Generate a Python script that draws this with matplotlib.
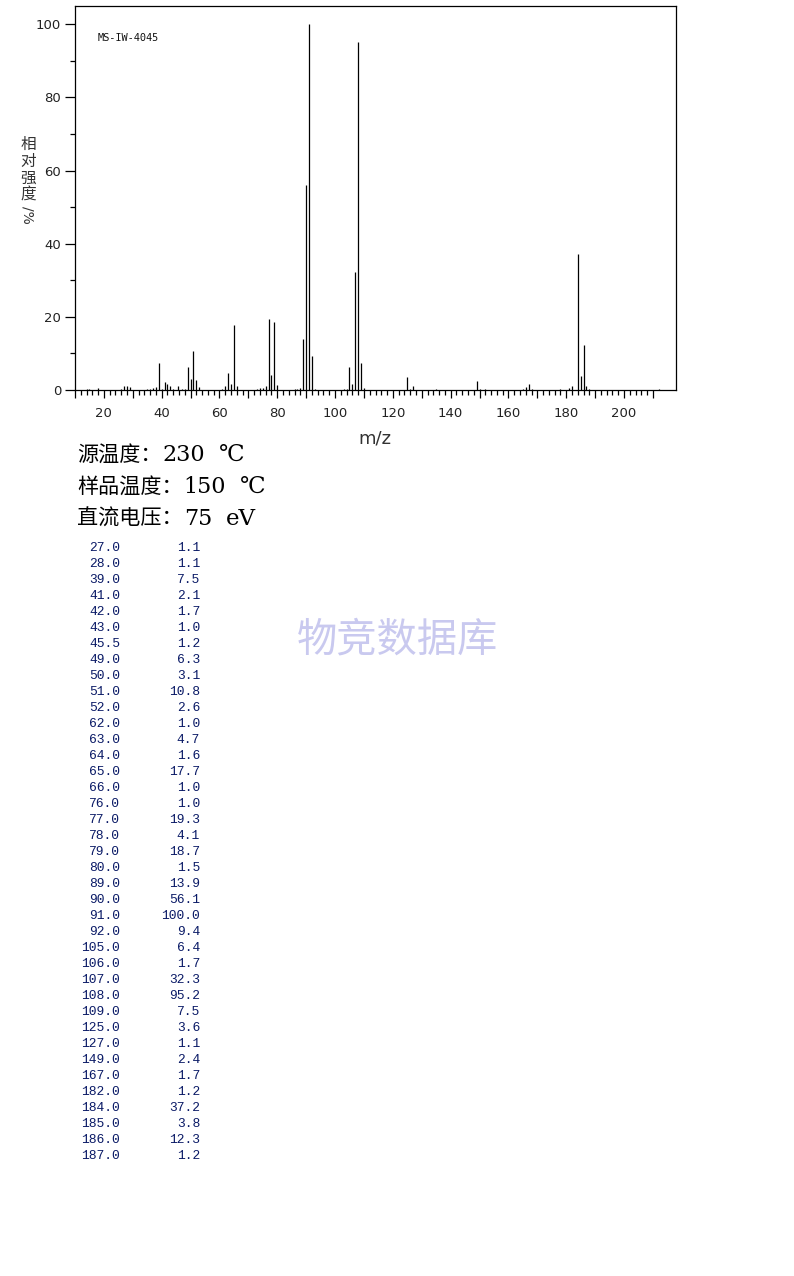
import matplotlib
matplotlib.use("Agg")
import matplotlib.pyplot as plt
from matplotlib.ticker import FixedLocator, FuncFormatter, MultipleLocator

# ---- data ----
mz_table = [27.0, 28.0, 39.0, 41.0, 42.0, 43.0, 45.5, 49.0, 50.0, 51.0, 52.0, 62.0, 63.0,
            64.0, 65.0, 66.0, 76.0, 77.0, 78.0, 79.0, 80.0, 89.0, 90.0, 91.0, 92.0, 105.0,
            106.0, 107.0, 108.0, 109.0, 125.0, 127.0, 149.0, 167.0, 182.0, 184.0, 185.0,
            186.0, 187.0]
int_table = [1.1, 1.1, 7.5, 2.1, 1.7, 1.0, 1.2, 6.3, 3.1, 10.8, 2.6, 1.0, 4.7,
             1.6, 17.7, 1.0, 1.0, 19.3, 4.1, 18.7, 1.5, 13.9, 56.1, 100.0, 9.4, 6.4,
             1.7, 32.3, 95.2, 7.5, 3.6, 1.1, 2.4, 1.7, 1.2, 37.2, 3.8,
             12.3, 1.2]
# small peaks (< 1 %) visible on the spectrum but not listed in the table
mz_minor = [14, 15, 18, 26, 29, 35, 36, 37, 38, 40, 44, 47, 48, 53, 61, 73, 74, 75,
            86, 87, 88, 93, 103, 104, 110, 126, 135, 150, 152, 165, 166, 168, 178,
            181, 188, 212]
int_minor = [0.3, 0.3, 0.6, 0.2, 0.9, 0.3, 0.4, 0.5, 0.8, 0.3, 0.4, 0.3, 0.3, 0.7, 0.3,
             0.4, 0.5, 0.5, 0.3, 0.3, 0.5, 0.3, 0.4, 0.4, 0.5, 0.3, 0.2, 0.3, 0.2, 0.4,
             0.7, 0.3, 0.4, 0.5, 0.3, 0.2]

sample_id = "MS-IW-4045"
info_labels = ["源温度：", "样品温度：", "直流电压："]
info_values = ["230", "150", "75"]
info_units = ["℃", "℃", "eV"]
watermark = "物竞数据库"

W, H = 794, 1276
fig = plt.figure(figsize=(W / 100, H / 100), dpi=100)

L, R, T, B = 75, 676, 6, 390
ax = fig.add_axes([L / W, 1 - B / H, (R - L) / W, (B - T) / H])

mz_all = mz_minor + mz_table
int_all = int_minor + int_table
ax.vlines(mz_all, 0, int_all, colors="black", linewidth=0.9)

ax.set_xlim(10, 218)
ax.set_ylim(0, 105)

for s in ax.spines.values():
    s.set_linewidth(0.9)
    s.set_color("black")

ax.xaxis.set_major_locator(FixedLocator(list(range(10, 211, 10))))
ax.xaxis.set_major_formatter(FuncFormatter(lambda v, p: f"{int(round(v))}" if int(round(v)) % 20 == 0 else ""))
ax.xaxis.set_minor_locator(FixedLocator([v for v in range(10, 211, 2) if v % 10 != 0]))
ax.yaxis.set_major_locator(MultipleLocator(20))
ax.yaxis.set_minor_locator(MultipleLocator(10))

ax.tick_params(axis="x", which="major", direction="out", length=6, width=0.9, pad=6,
               labelsize=9.5, labelcolor="#222222")
ax.tick_params(axis="x", which="minor", direction="out", length=3.8, width=0.9)
ax.tick_params(axis="y", which="major", direction="out", length=7, width=0.9, pad=3,
               labelsize=9.5, labelcolor="#222222")
ax.tick_params(axis="y", which="minor", direction="out", length=3.8, width=0.9)

# axis labels
fig.text(375 / W, 1 - 438 / H, "m/z", ha="center", va="center", fontsize=13,
         color="#333333", family="DejaVu Sans")
ylab_chars = ["相", "对", "强", "度"]
ylab_y = [144, 161, 178, 195]
for ch, yy in zip(ylab_chars, ylab_y):
    fig.text(28 / W, 1 - yy / H, ch, ha="center", va="center", fontsize=11.3,
             color="#333333", family=["Noto Sans CJK SC", "DejaVu Sans"])
fig.text(28 / W, 1 - 215 / H, "/%", ha="center", va="center", fontsize=10,
         color="#333333", rotation=-90, family="DejaVu Sans")

# sample id inside the plot
fig.text(98 / W, 1 - 38 / H, sample_id, ha="left", va="center", fontsize=7.4,
         color="#111111", family="DejaVu Sans Mono")

# info lines
renderer = fig.canvas.get_renderer()
for i, (lab, val, unit) in enumerate(zip(info_labels, info_values, info_units)):
    yc = 1 - (455 + 32 * i) / H
    t1 = fig.text(77 / W, yc, lab, ha="left", va="center", fontsize=15.2,
                  color="black", family=["Noto Sans CJK SC", "DejaVu Sans"])
    e1 = t1.get_window_extent(renderer)
    t2 = fig.text((e1.x1 + 1) / W, yc, val, ha="left", va="center", fontsize=16,
                  color="black", family=["DejaVu Serif", "Noto Sans CJK SC"])
    e2 = t2.get_window_extent(renderer)
    fig.text((e2.x1 + 14) / W, yc, unit, ha="left", va="center", fontsize=16.5,
             color="black", family=["DejaVu Serif", "Noto Sans CJK SC"])

# table
for i, (m, v) in enumerate(zip(mz_table, int_table)):
    y = 1 - (548 + 16 * i) / H
    fig.text(120 / W, y, f"{m:.1f}", ha="right", va="center", fontsize=9.4,
             color="#0a1a66", family="Liberation Mono")
    fig.text(200 / W, y, f"{v:.1f}", ha="right", va="center", fontsize=9.4,
             color="#0a1a66", family="Liberation Mono")

# watermark
fig.text(397 / W, 1 - 640 / H, watermark, ha="center", va="center", fontsize=29,
         color="#c9c9ef", family=["Noto Sans CJK SC", "DejaVu Sans"])

fig.savefig("out.png", dpi=100)
